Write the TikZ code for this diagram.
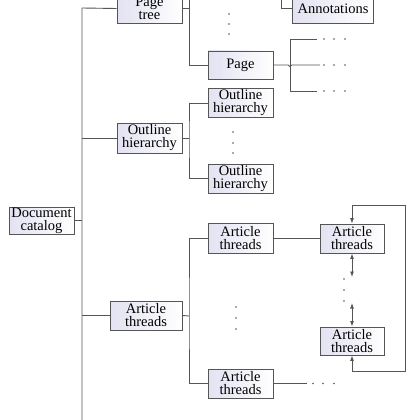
\documentclass[tikz,border=0pt]{standalone}
\usepackage{fontspec}
\setmainfont{Liberation Serif}
\usetikzlibrary{arrows.meta}
\definecolor{ln}{RGB}{85,85,85}
\definecolor{lav}{RGB}{226,226,242}
\begin{document}
\begin{tikzpicture}[x=1pt,y=-1pt,
  box/.style={draw=ln,line width=0.9pt,left color=lav,right color=white,
    inner sep=0pt,align=center,font=\fontsize{14.5}{13}\selectfont},
  conn/.style={draw=ln,line width=0.9pt},
  dot/.style={fill=ln,circle,inner sep=0pt,minimum size=1.6pt}]
\tikzset{bt/.tip={Latex[length=5.5pt,width=4pt]}}
\useasboundingbox (0,0) rectangle (420,420);
% boxes
\node[box,minimum width=65pt,minimum height=29pt] (pagetree) at (149.5,8.5) {Page\\tree};
\node[box,minimum width=81pt,minimum height=29pt] (annot) at (333,8.5) {Annotations};
\node[box,minimum width=65pt,minimum height=28pt] (page) at (240.5,65) {Page};
\node[box,minimum width=65pt,minimum height=30pt] (oh0) at (149.5,138) {Outline\\hierarchy};
\node[box,minimum width=65pt,minimum height=29pt] (oh1) at (240.5,103) {Outline\\hierarchy};
\node[box,minimum width=65pt,minimum height=29pt] (oh2) at (240.5,178.5) {Outline\\hierarchy};
\node[box,minimum width=65pt,minimum height=27pt] (doc) at (41.5,220.5) {Document\\catalog};
\node[box,minimum width=72pt,minimum height=29pt] (at0) at (146,315.5) {Article\\threads};
\node[box,minimum width=65pt,minimum height=30pt] (at1) at (240.5,238) {Article\\threads};
\node[box,minimum width=65pt,minimum height=29pt] (at2) at (240.5,383.5) {Article\\threads};
\node[box,minimum width=64pt,minimum height=29pt] (atA) at (352,238.5) {Article\\threads};
\node[box,minimum width=64pt,minimum height=28pt] (atB) at (352,341) {Article\\threads};
% coordinates
\coordinate (trunkTop) at (82,8);
\coordinate (trunkBot) at (82,425);
\coordinate (ptTop) at (189,-10);
\coordinate (anTop) at (281,-10);
\coordinate (ohJ) at (189,138);
\coordinate (atJ) at (189,316);
\coordinate (loopTop) at (405,205);
\coordinate (loopBot) at (405,371);
\coordinate (aEnd) at (352,277);
\coordinate (bStart) at (352,303);
\coordinate (at2End) at (307,383.5);
% trunk
\draw[conn] (pagetree.west) -- (trunkTop) -- (trunkBot);
\draw[conn] (doc.east) -- (doc.east -| trunkTop);
\draw[conn] (oh0.west) -- (oh0.west -| trunkTop);
\draw[conn] (at0.west) -- (at0.west -| trunkTop);
% page tree
\draw[conn] (pagetree.east) -- (pagetree.east -| ptTop);
\draw[conn] (ptTop) |- (page.west);
\draw[conn] (anTop) |- (annot.west);
\foreach \y in {14,24,34} \node[dot] at (229,\y) {};
% page children
\draw[conn] (page.east) -- (288.3,65) arc[start angle=180,end angle=0,x radius=1.7pt,y radius=-1.7pt] -- (320,65);
\draw[conn] (317,39) -- (290,39) -- (290,91) -- (317,91);
\foreach \y in {39,65,91} \foreach \x in {324,334,345} \node[dot] at (\x,\y) {};
% outline
\draw[conn] (oh0.east) -- (ohJ);
\draw[conn] (oh1.west) -| (ohJ) |- (oh2.west);
\foreach \y in {132,143,153} \node[dot] at (233,\y) {};
% article threads
\draw[conn] (at0.east) -- (atJ);
\draw[conn] (at1.west) -| (atJ) |- (at2.west);
\foreach \y in {307,318,329} \node[dot] at (236,\y) {};
\draw[conn] (at1.east) -- (at1.east -| atA.west);
\draw[conn] (at2.east) -- (at2End);
\foreach \x in {313,323,334} \node[dot] at (\x,383.5) {};
% thread chain
\draw[conn,bt-bt] (atA.south) -- (aEnd);
\draw[conn,bt-bt] (bStart) -- (atB.north);
\foreach \y in {279,290,301} \node[dot] at (344,\y) {};
\draw[conn,bt-bt] (atB.south) -- (atB.south |- loopBot) -- (loopBot) -- (loopTop) -- (atA.north |- loopTop) -- (atA.north);
\end{tikzpicture}
\end{document}
